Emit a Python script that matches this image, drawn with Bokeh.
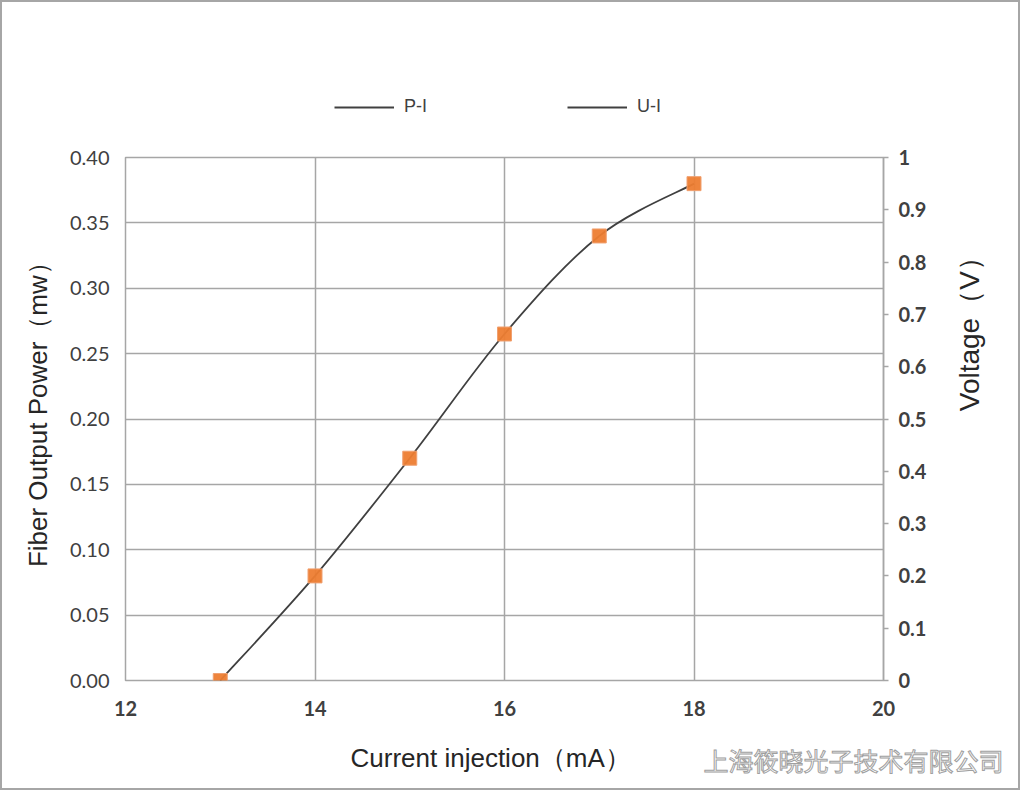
import math
import numpy as np
from bokeh.plotting import figure
from bokeh.layouts import column, row
from bokeh.models import (Range1d, LinearAxis, FixedTicker, NumeralTickFormatter,
                          Legend, LegendItem, Label, ColumnDataSource)
from bokeh.embed import file_html
from bokeh.resources import INLINE

# ---- data ----
current_ma = [13, 14, 15, 16, 17, 18]
power_mw = [0.0, 0.08, 0.17, 0.265, 0.34, 0.38]
x_ticks = [12, 14, 16, 18, 20]
left_ticks = [0.0, 0.05, 0.10, 0.15, 0.20, 0.25, 0.30, 0.35, 0.40]
right_ticks = [0, 0.1, 0.2, 0.3, 0.4, 0.5, 0.6, 0.7, 0.8, 0.9, 1.0]
series_names = ["P-I", "U-I"]
x_label = "Current injection（mA）"
y_label = "Fiber Output Power（mw）"
y2_label = "Voltage（V）"
watermark = "上海筱晓光子技术有限公司"

GRID = "#a6a6a6"
TXT = "#404040"
LINE = "#404040"
ORANGE = "#ED7D31"
NB = "\u00a0"
W = 1016


def blank_fig(h):
    f = figure(width=W, height=h, output_backend="svg", toolbar_location=None,
               x_axis_type=None, y_axis_type=None,
               x_range=Range1d(0, 1), y_range=Range1d(0, 1),
               min_border=0, min_border_left=0, min_border_right=0,
               min_border_top=0, min_border_bottom=0)
    f.outline_line_color = None
    f.grid.visible = False
    return f


# ---------- top strip with legend ----------
top = blank_fig(130)
r_pi = top.line([np.nan], [np.nan], line_color=LINE, line_width=1.8)
r_ui = top.line([np.nan], [np.nan], line_color=LINE, line_width=1.8)
for name, rend, xloc in ((series_names[0], r_pi, 332), (series_names[1], r_ui, 565)):
    lg = Legend(items=[LegendItem(label=name, renderers=[rend])],
                location=(xloc, 15), orientation="horizontal",
                glyph_width=60, glyph_height=20, label_standoff=10,
                padding=0, margin=0, border_line_color=None,
                background_fill_alpha=0,
                label_text_font="Liberation Sans", label_text_font_size="18px",
                label_text_color=TXT)
    top.add_layout(lg, "center")

# ---------- main plot ----------
p = figure(width=W, height=598, output_backend="svg", toolbar_location=None,
           x_range=Range1d(12, 20), y_range=Range1d(0, 0.40),
           min_border_left=123, min_border_top=25, min_border_right=135,
           min_border_bottom=50)
p.extra_y_ranges = {"v": Range1d(0, 1)}
p.outline_line_color = GRID
p.outline_line_width = 1.5

p.xgrid.ticker = FixedTicker(ticks=x_ticks)
p.ygrid.ticker = FixedTicker(ticks=left_ticks)
for g in (p.xgrid, p.ygrid):
    g.grid_line_color = GRID
    g.grid_line_width = 1.5

xa = p.xaxis[0]
xa.ticker = FixedTicker(ticks=x_ticks)
xa.axis_line_color = None
xa.major_tick_line_color = None
xa.minor_tick_line_color = None
xa.major_label_standoff = 14
xa.major_label_text_font = "Lato"
xa.major_label_text_font_style = "bold"
xa.major_label_text_font_size = "20px"
xa.major_label_text_color = TXT

ya = p.yaxis[0]
ya.ticker = FixedTicker(ticks=left_ticks)
ya.formatter = NumeralTickFormatter(format="0.00")
ya.axis_line_color = None
ya.major_tick_line_color = None
ya.minor_tick_line_color = None
ya.major_label_standoff = 10
ya.major_label_text_font = "Lato"
ya.major_label_text_font_size = "20px"
ya.major_label_text_color = TXT
ya.axis_label = NB * 3 + y_label
ya.axis_label_text_font = "Liberation Sans"
ya.axis_label_text_font_style = "normal"
ya.axis_label_text_font_size = "26px"
ya.axis_label_text_color = "#262626"
ya.axis_label_standoff = 14

ra = LinearAxis(y_range_name="v", ticker=FixedTicker(ticks=right_ticks),
                formatter=NumeralTickFormatter(format="0.[0]"))
ra.axis_line_color = GRID
ra.axis_line_width = 1.5
ra.major_tick_line_color = GRID
ra.major_tick_line_width = 1.5
ra.major_tick_in = 0
ra.major_tick_out = 5
ra.minor_tick_line_color = None
ra.major_label_standoff = 10
ra.major_label_text_font = "Lato"
ra.major_label_text_font_style = "bold"
ra.major_label_text_font_size = "20px"
ra.major_label_text_color = TXT
ra.axis_label = NB + y2_label
ra.axis_label_orientation = math.pi / 2
ra.axis_label_text_font = "Liberation Sans"
ra.axis_label_text_font_style = "normal"
ra.axis_label_text_font_size = "28px"
ra.axis_label_text_color = "#262626"
ra.axis_label_standoff = 40
p.add_layout(ra, "right")

# smooth curve (Excel-style smoothed line) via cubic Bezier segments
xs = np.array(current_ma, dtype=float)
ys = np.array(power_mw, dtype=float)
xp = np.concatenate([[xs[0]], xs, [xs[-1]]])
yp = np.concatenate([[ys[0]], ys, [ys[-1]]])
n = len(xs) - 1
bez = dict(
    x0=xs[:-1], y0=ys[:-1], x1=xs[1:], y1=ys[1:],
    cx0=xs[:-1] + (xp[2:n + 2] - xp[0:n]) / 6.0,
    cy0=ys[:-1] + (yp[2:n + 2] - yp[0:n]) / 6.0,
    cx1=xs[1:] - (xp[3:n + 3] - xp[1:n + 1]) / 6.0,
    cy1=ys[1:] - (yp[3:n + 3] - yp[1:n + 1]) / 6.0,
)
p.bezier(x0="x0", y0="y0", x1="x1", y1="y1", cx0="cx0", cy0="cy0",
         cx1="cx1", cy1="cy1", source=ColumnDataSource(bez),
         line_color=LINE, line_width=1.8)

p.scatter(current_ma, power_mw, marker="square", size=14,
          fill_color=ORANGE, line_color="#F0A070", line_width=1, fill_alpha=0.95)

# ---------- bottom strip: x-axis title + watermark ----------
bot = blank_fig(58)
bot.add_layout(Label(x=348, y=31, x_units="screen", y_units="screen",
                     text=x_label, text_font="Liberation Sans",
                     text_font_size="26px", text_color="#262626",
                     text_baseline="middle", text_align="left"))
bot.add_layout(Label(x=701, y=29, x_units="screen", y_units="screen",
                     text=watermark, text_font="Noto Sans CJK SC",
                     text_font_size="25px", text_color="#ffffff",
                     text_outline_color="#a0a0a0",
                     text_baseline="middle", text_align="left"))

layout = column(row(top), p, row(bot), spacing=0)
layout.styles = {"border": "2px solid #a6a6a6"}

open("out.html", "w").write(file_html(layout, INLINE))
